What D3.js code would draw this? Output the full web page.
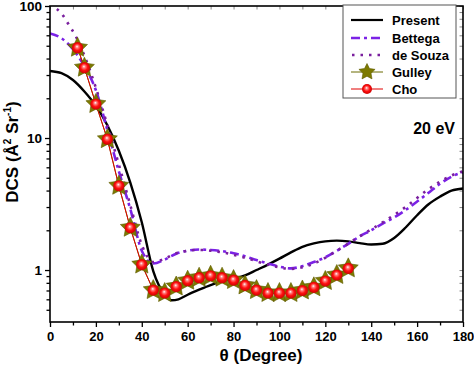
<!DOCTYPE html>
<html>
<head>
<meta charset="utf-8">
<script src="https://cdn.jsdelivr.net/npm/d3@7"></script>
<style>
  body { margin: 0; background: #fff; }
  svg { display: block; font-family: "Liberation Sans", Arial, sans-serif; font-weight: bold; }
</style>
</head>
<body>
<svg id="chart" width="474" height="365"></svg>
<script>
// angles (degrees) and DCS values
const presentDeg = [0, 5, 10, 15, 20, 25, 30, 35, 40, 45, 50, 53, 56, 60, 65, 70, 75, 80, 85, 90, 95, 100, 105, 110, 115, 120, 125, 130, 135, 140, 145, 150, 155, 160, 165, 170, 175, 180];
const presentVal = [32.2, 31, 27.5, 22.5, 17.5, 12.5, 8, 4.6, 2.3, 0.98, 0.65, 0.59, 0.6, 0.65, 0.71, 0.77, 0.82, 0.86, 0.91, 1.0, 1.1, 1.22, 1.36, 1.5, 1.59, 1.65, 1.67, 1.65, 1.6, 1.56, 1.58, 1.75, 2.1, 2.6, 3.15, 3.6, 4.0, 4.15];

const bettegaDeg = [0, 5, 10, 15, 20, 25, 30, 35, 40, 45, 50, 55, 60, 65, 70, 75, 80, 85, 90, 95, 100, 105, 110, 115, 120, 125, 130, 135, 140, 145, 150, 155, 160, 165, 170, 175, 180];
const bettegaVal = [62, 57, 47, 35, 23, 11.5, 5.6, 2.9, 1.4, 1.12, 1.2, 1.33, 1.4, 1.43, 1.42, 1.39, 1.34, 1.27, 1.19, 1.12, 1.06, 1.03, 1.07, 1.15, 1.25, 1.4, 1.58, 1.8, 2.0, 2.25, 2.5, 2.85, 3.3, 3.85, 4.5, 5.1, 5.5];

const souzaDeg = [3, 5, 8, 11, 15, 20, 25, 30, 35, 40, 45, 50, 55, 65, 75, 85, 95, 105, 115, 125, 135, 145, 155, 165, 175, 180];
const souzaVal = [95, 88, 73, 60, 42, 24, 12.5, 6.3, 3.1, 1.55, 1.15, 1.22, 1.34, 1.42, 1.36, 1.24, 1.1, 1.02, 1.12, 1.4, 1.8, 2.3, 3.0, 4.1, 5.2, 5.6];

const expDeg = [12, 15, 20, 25, 30, 35, 40, 45, 50, 55, 60, 65, 70, 75, 80, 85, 90, 95, 100, 105, 110, 115, 120, 125, 130];
const gulleyVal = [48.3, 34.1, 18.1, 9.8, 4.35, 2.09, 1.1, 0.705, 0.67, 0.75, 0.83, 0.875, 0.905, 0.875, 0.84, 0.765, 0.705, 0.67, 0.67, 0.67, 0.70, 0.74, 0.826, 0.917, 1.03];
const choVal = gulleyVal.slice();

const xTicks = [0, 20, 40, 60, 80, 100, 120, 140, 160, 180];
const yTicks = [1, 10, 100];
const legendNames = ["Present", "Bettega", "de Souza", "Gulley", "Cho"];

const svg = d3.select("#chart");
const pLeft = 50, pRight = 463, pTop = 6, pBottom = 322;

const x = d3.scaleLinear().domain([0, 180]).range([pLeft, pRight]);
const y = d3.scaleLog().domain([0.404, 100]).range([pBottom, pTop]);

// gradient for red balls
const defs = svg.append("defs");
const grad = defs.append("radialGradient").attr("id", "ball")
  .attr("cx", "50%").attr("cy", "50%").attr("r", "55%").attr("fx", "45%").attr("fy", "38%");
grad.append("stop").attr("offset", "0%").attr("stop-color", "#ffffff");
grad.append("stop").attr("offset", "22%").attr("stop-color", "#ff8080");
grad.append("stop").attr("offset", "55%").attr("stop-color", "#ff1010");
grad.append("stop").attr("offset", "100%").attr("stop-color", "#c00000");

defs.append("clipPath").attr("id", "plotclip").append("rect")
  .attr("x", pLeft).attr("y", pTop).attr("width", pRight - pLeft).attr("height", pBottom - pTop);

// fat 5-point star
function starPath(r) {
  const inner = r * 0.5;
  const pts = [];
  for (let i = 0; i < 10; i++) {
    const rr = i % 2 === 0 ? r : inner;
    const a = -Math.PI / 2 + i * Math.PI / 5;
    pts.push([rr * Math.cos(a), rr * Math.sin(a)]);
  }
  return "M" + pts.map(p => p[0].toFixed(2) + "," + p[1].toFixed(2)).join("L") + "Z";
}

const line = d3.line().curve(d3.curveMonotoneX).x(d => x(d[0])).y(d => y(d[1]));
const plot = svg.append("g").attr("clip-path", "url(#plotclip)");

const zip = (a, b) => a.map((v, i) => [v, b[i]]);

plot.append("path").datum(zip(presentDeg, presentVal)).attr("d", line)
  .attr("fill", "none").attr("stroke", "#000").attr("stroke-width", 2.4);
plot.append("path").datum(zip(bettegaDeg, bettegaVal)).attr("d", line)
  .attr("fill", "none").attr("stroke", "#7b22e6").attr("stroke-width", 2.6)
  .attr("stroke-dasharray", "9,4,3,4");
plot.append("path").datum(zip(souzaDeg, souzaVal)).attr("d", line)
  .attr("fill", "none").attr("stroke", "#7a1f9e").attr("stroke-width", 2.6)
  .attr("stroke-dasharray", "2.5,6");

const lin = d3.line().x(d => x(d[0])).y(d => y(d[1]));
plot.append("path").datum(zip(expDeg, gulleyVal)).attr("d", lin)
  .attr("fill", "none").attr("stroke", "#6b6b00").attr("stroke-width", 1);
plot.append("path").datum(zip(expDeg, choVal)).attr("d", lin)
  .attr("fill", "none").attr("stroke", "#e00000").attr("stroke-width", 1);

svg.append("g").selectAll("path").data(zip(expDeg, gulleyVal)).join("path")
  .attr("d", starPath(10.5))
  .attr("transform", d => `translate(${x(d[0])},${y(d[1])})`)
  .attr("fill", "#7d7a00").attr("stroke", "#5f5c00").attr("stroke-width", 0.6);
svg.append("g").selectAll("circle").data(zip(expDeg, choVal)).join("circle")
  .attr("cx", d => x(d[0])).attr("cy", d => y(d[1])).attr("r", 5.6)
  .attr("fill", "url(#ball)");

// axes
const minorY = [];
for (let e = -1; e <= 1; e++) for (let m = 2; m <= 9; m++) {
  const v = m * Math.pow(10, e);
  if (v >= 0.404 && v <= 100) minorY.push(v);
}
const minorX = d3.range(10, 180, 20);

function styleAxis(g, size) {
  g.selectAll(".domain").remove();
  g.selectAll("line").attr("stroke", "#000").attr("stroke-width", 1.3);
  g.selectAll("text").attr("font-size", size || 12.5).attr("font-weight", "bold").attr("fill", "#000")
    .attr("font-family", "Liberation Sans, Arial, sans-serif");
}

svg.append("g").attr("transform", `translate(${pLeft},0)`)
  .call(d3.axisLeft(y).tickValues(yTicks).tickFormat(d3.format("d")).tickSize(5).tickPadding(3))
  .call(styleAxis, 13.5);
svg.append("g").attr("transform", `translate(${pLeft},0)`)
  .call(d3.axisLeft(y).tickValues(minorY).tickFormat("").tickSize(3.5))
  .call(styleAxis);
svg.append("g").attr("transform", `translate(0,${pBottom})`)
  .call(d3.axisBottom(x).tickValues(xTicks).tickSize(5).tickPadding(5))
  .call(styleAxis, 13);
svg.append("g").attr("transform", `translate(0,${pBottom})`)
  .call(d3.axisBottom(x).tickValues(minorX).tickFormat("").tickSize(3.5))
  .call(styleAxis);

// mirrored inner ticks on right/top
svg.append("g").attr("transform", `translate(${pRight},0)`)
  .call(d3.axisRight(y).tickValues(yTicks.concat(minorY)).tickFormat("").tickSize(-3.5))
  .call(styleAxis).selectAll("line").attr("stroke", "#888").attr("stroke-width", 1);
svg.append("g").attr("transform", `translate(0,${pTop})`)
  .call(d3.axisTop(x).tickValues(xTicks.concat(minorX)).tickFormat("").tickSize(-3.5))
  .call(styleAxis).selectAll("line").attr("stroke", "#888").attr("stroke-width", 1);

svg.append("rect").attr("x", pLeft).attr("y", pTop).attr("width", pRight - pLeft).attr("height", pBottom - pTop)
  .attr("fill", "none").attr("stroke", "#000").attr("stroke-width", 1.6);

// axis titles
svg.append("text").attr("x", 261).attr("y", 361).attr("text-anchor", "middle")
  .attr("font-size", 17).text("θ (Degree)");
const yl = svg.append("text").attr("transform", "translate(18,152) rotate(-90)")
  .attr("text-anchor", "middle").attr("font-size", 17);
yl.append("tspan").text("DCS (Å");
yl.append("tspan").attr("dy", -7).attr("font-size", 10).text("2");
yl.append("tspan").attr("dy", 7).text(" Sr");
yl.append("tspan").attr("dy", -7).attr("font-size", 10).text("-1");
yl.append("tspan").attr("dy", 7).text(")");

svg.append("text").attr("x", 455).attr("y", 134).attr("text-anchor", "end")
  .attr("font-size", 16).text("20 eV");

// legend
const lg = svg.append("g");
lg.append("rect").attr("x", 343).attr("y", 5).attr("width", 113).attr("height", 93)
  .attr("fill", "#fff").attr("stroke", "#555").attr("stroke-width", 1);
const rowY = [20, 38, 55, 72, 89];
const lx0 = 351, lx1 = 383;
legendNames.forEach((name, i) => {
  const g = lg.append("g");
  const yy = rowY[i];
  const ln = g.append("line").attr("x1", lx0).attr("x2", lx1).attr("y1", yy).attr("y2", yy);
  if (i === 0) ln.attr("stroke", "#000").attr("stroke-width", 2.2);
  if (i === 1) ln.attr("stroke", "#7b22e6").attr("stroke-width", 2.6).attr("stroke-dasharray", "9,4,3,4");
  if (i === 2) ln.attr("stroke", "#7a1f9e").attr("stroke-width", 2.6).attr("stroke-dasharray", "2.5,6").attr("x1", lx0 + 1);
  if (i === 3) {
    ln.attr("stroke", "#6b6b00").attr("stroke-width", 1);
    g.append("path").attr("d", starPath(8.5)).attr("transform", `translate(${(lx0 + lx1) / 2},${yy})`)
      .attr("fill", "#7d7a00").attr("stroke", "#5f5c00").attr("stroke-width", 0.6);
  }
  if (i === 4) {
    ln.attr("stroke", "#e00000").attr("stroke-width", 1);
    g.append("circle").attr("cx", (lx0 + lx1) / 2).attr("cy", yy).attr("r", 5).attr("fill", "url(#ball)");
  }
  g.append("text").attr("x", 392).attr("y", yy + 4.5).attr("font-size", 13).text(name);
});
</script>
</body>
</html>
